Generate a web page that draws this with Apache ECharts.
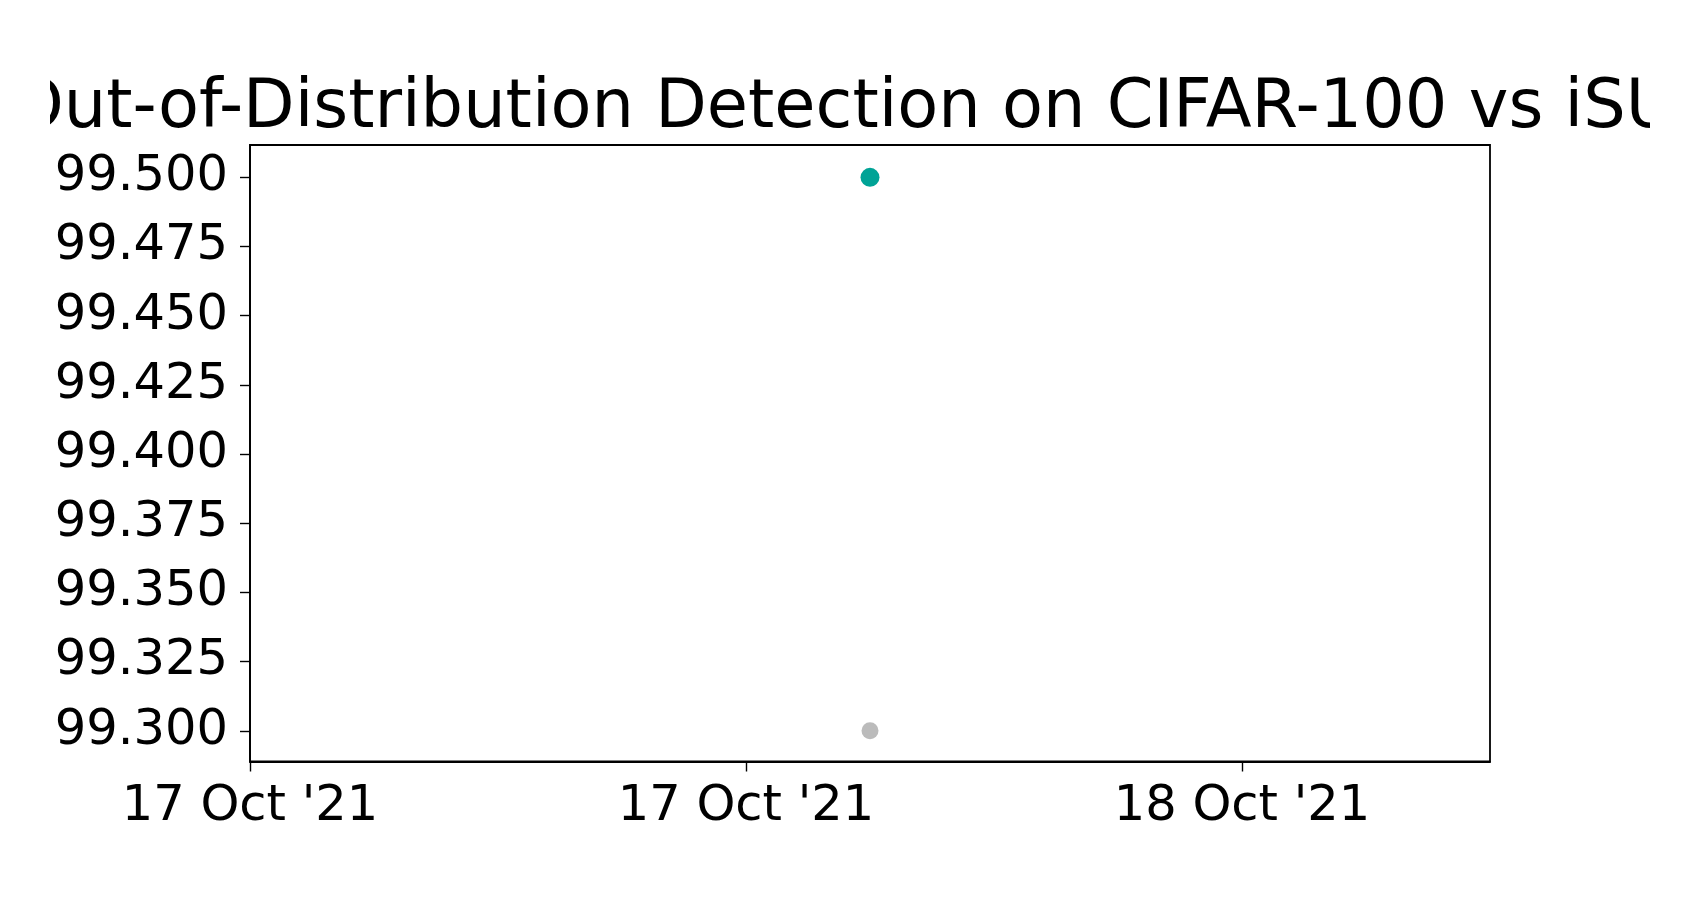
<!DOCTYPE html>
<html>
<head>
<meta charset="utf-8">
<script src="https://cdn.jsdelivr.net/npm/echarts@6/dist/echarts.min.js"></script>
<style>
  html, body { margin: 0; padding: 0; background: #fff; }
  #main { width: 1700px; height: 900px; }
</style>
</head>
<body>
<div id="main"></div>
<script>
// data
var runDates = ['2021-10-17T15:00:00Z'];
var bestScore = [99.5];      // teal point
var otherScore = [99.3];     // grey point
var xTicks = ['2021-10-17T00:00:00Z', '2021-10-17T12:00:00Z', '2021-10-18T00:00:00Z'];
var yTicks = [99.3, 99.325, 99.35, 99.375, 99.4, 99.425, 99.45, 99.475, 99.5];
var xRange = ['2021-10-17T00:00:00Z', '2021-10-18T06:00:00Z'];
var yRange = [99.2889, 99.5117];

var MONTHS = ['Jan','Feb','Mar','Apr','May','Jun','Jul','Aug','Sep','Oct','Nov','Dec'];
function fmtDate(v) {
  var d = new Date(v);
  return d.getUTCDate() + ' ' + MONTHS[d.getUTCMonth()] + " '" + String(d.getUTCFullYear()).slice(2);
}
function ts(s) { return new Date(s).getTime(); }

var FONT = 'DejaVu Sans';
var myChart = echarts.init(document.getElementById('main'));

var option = {
  animation: false,
  backgroundColor: '#fff',
  grid: {
    left: 250, top: 145, width: 1240, height: 616.5,
    show: true, borderColor: '#000', borderWidth: 1.8, backgroundColor: 'transparent'
  },
  graphic: [
    {
      type: 'text', x: 868, y: 110, z: 10,
      style: {
        text: 'Out-of-Distribution Detection on CIFAR-100 vs iSUN',
        font: '67px "' + FONT + '"', fill: '#000',
        textAlign: 'center', textVerticalAlign: 'middle'
      }
    },
    // the title is cut at both sides in the original
    { type: 'rect', z: 20, shape: { x: 0, y: 20, width: 50, height: 120 }, style: { fill: '#fff' } },
    { type: 'rect', z: 20, shape: { x: 1650, y: 20, width: 50, height: 120 }, style: { fill: '#fff' } }
  ],
  xAxis: {
    type: 'value',
    min: ts(xRange[0]),
    max: ts(xRange[1]),
    interval: 43200000,
    axisLine: { show: true, lineStyle: { color: '#000', width: 1.8 } },
    axisTick: { show: true, length: 10, lineStyle: { color: '#000', width: 1.4 },
      customValues: xTicks.map(ts) },
    axisLabel: { color: '#000', fontFamily: FONT, fontSize: 49.5, margin: 21,
      customValues: xTicks.map(ts), formatter: fmtDate },
    splitLine: { show: false }
  },
  yAxis: {
    type: 'value',
    min: yRange[0],
    max: yRange[1],
    axisLine: { show: true, lineStyle: { color: '#000', width: 1.8 } },
    axisTick: { show: true, length: 10, lineStyle: { color: '#000', width: 1.4 },
      customValues: yTicks },
    axisLabel: { color: '#000', fontFamily: FONT, fontSize: 49.5, margin: 22,
      customValues: yTicks, formatter: function (v) { return v.toFixed(3); } },
    splitLine: { show: false }
  },
  series: [
    {
      name: 'best',
      type: 'scatter',
      symbolSize: 19,
      itemStyle: { color: '#00a396', opacity: 1 },
      data: runDates.map(function (d, i) { return [ts(d), bestScore[i]]; })
    },
    {
      name: 'other',
      type: 'scatter',
      symbolSize: 17,
      itemStyle: { color: '#bbbbbb', opacity: 1 },
      data: runDates.map(function (d, i) { return [ts(d), otherScore[i]]; })
    }
  ]
};

myChart.setOption(option);
window.onresize = myChart.resize;
</script>
</body>
</html>
